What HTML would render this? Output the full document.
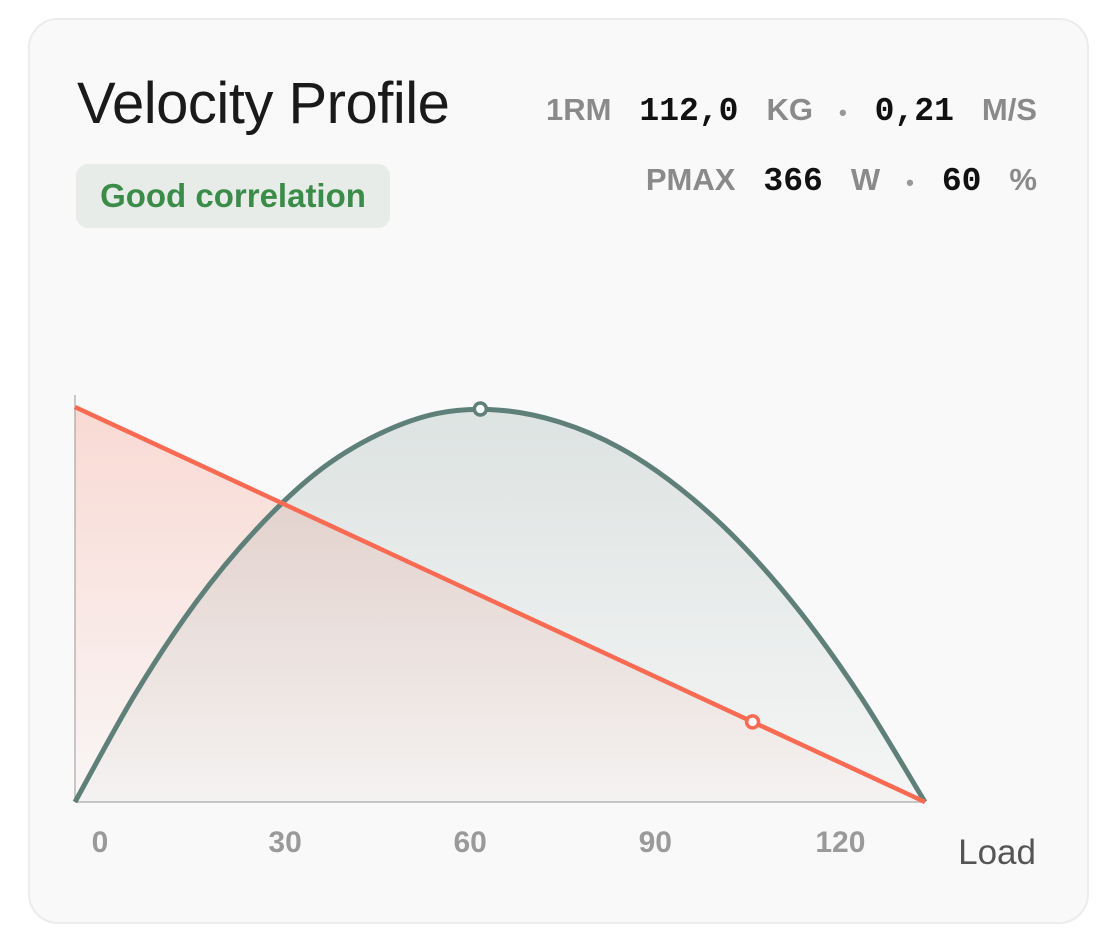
<!DOCTYPE html>
<html><head><meta charset="utf-8"><style>
body{margin:0;width:1119px;height:947px;background:#fff;font-family:"Liberation Sans",sans-serif;overflow:hidden}
.card{position:absolute;left:28px;top:18px;width:1057px;height:902px;border:2px solid #ececec;border-radius:30px;background:#f9f9f9}
.title{position:absolute;left:77px;top:70px;font-size:58px;color:#1a1a1a;letter-spacing:-0.5px}
.pill{position:absolute;left:76px;top:164px;width:314px;height:64px;border-radius:12px;background:#e7ece8;color:#3b8c48;font-weight:bold;font-size:33px;line-height:64px;text-align:center}
.stat{position:absolute;right:82px;font-size:31px;font-weight:bold;white-space:nowrap}
.stat .k{color:#8a8a8a;margin-left:28px}.stat .v{color:#111;margin-left:28px;font-family:"Liberation Mono",monospace;font-size:33px}
.stat .d{color:#999;margin-left:26px;font-size:22px}
svg{position:absolute;left:0;top:0}
</style></head><body>
<div class="card"></div>
<div class="title">Velocity Profile</div>
<div class="pill">Good correlation</div>
<div class="stat" style="top:92px"><span class="k">1RM</span><span class="v">112,0</span><span class="k">KG</span><span class="d">•</span><span class="v">0,21</span><span class="k">M/S</span></div>
<div class="stat" style="top:162px"><span class="k">PMAX</span><span class="v">366</span><span class="k">W</span><span class="d">•</span><span class="v">60</span><span class="k">%</span></div>
<svg id="chart" width="1119" height="947">
<defs>
<linearGradient id="gr" x1="0" y1="0" x2="0" y2="1"><stop offset="0" stop-color="#fa6a50" stop-opacity="0.22"/><stop offset="1" stop-color="#fa6a50" stop-opacity="0.02"/></linearGradient>
<linearGradient id="gg" x1="0" y1="0" x2="0" y2="1"><stop offset="0" stop-color="#5f8079" stop-opacity="0.18"/><stop offset="1" stop-color="#5f8079" stop-opacity="0.03"/></linearGradient>
</defs>
</svg>
<script>
const loads=[0,10,20,30,40,50,60,70,80,90,100,110,120,130,140.5];
const power=[0,101,186,254,307,342,362,365,354,330,292,241,176,97,0];
const velLoads=[0,140.5];
const velocity=[1.035,0];
const oneRM=[112,0.21];
const pmax=[67,366];
const ticks=[0,30,60,90,120];
const X0=75,X1=925,Y0=802;
const xs=v=>X0+v*(X1-X0)/140.5;
const yp=p=>Y0-p*(Y0-409)/366;
const yv=v=>Y0-v*(Y0-407)/1.035;
const svg=document.getElementById('chart');
const NS='http://www.w3.org/2000/svg';
function mk(t,a){const e=document.createElementNS(NS,t);for(const k in a)e.setAttribute(k,a[k]);svg.appendChild(e);return e;}
let ax=mk('line',{x1:X0,y1:395,x2:X0,y2:Y0,stroke:'#c8c8c8','stroke-width':2});


let bx=mk('line',{x1:X0,y1:Y0,x2:X1,y2:Y0,stroke:'#c8c8c8','stroke-width':2});


const pts=loads.map((l,i)=>[xs(l),yp(power[i])]);
let d='M'+pts[0][0]+','+pts[0][1];
for(let i=0;i<pts.length-1;i++){const p0=pts[Math.max(0,i-1)],p1=pts[i],p2=pts[i+1],p3=pts[Math.min(pts.length-1,i+2)];
d+=' C'+(p1[0]+(p2[0]-p0[0])/6)+','+(p1[1]+(p2[1]-p0[1])/6)+' '+(p2[0]-(p3[0]-p1[0])/6)+','+(p2[1]-(p3[1]-p1[1])/6)+' '+p2[0]+','+p2[1];}
let vf=mk('path',{d:'M'+xs(velLoads[0])+','+yv(velocity[0])+' L'+xs(velLoads[1])+','+yv(velocity[1])+' L'+xs(velLoads[0])+','+Y0+'Z',fill:'url(#gr)'});


let pf=mk('path',{d:d+' Z',fill:'url(#gg)'});


let pl=mk('path',{d:d,fill:'none',stroke:'#5f8079','stroke-width':5});


let vl=mk('line',{x1:xs(velLoads[0]),y1:yv(velocity[0]),x2:xs(velLoads[1]),y2:yv(velocity[1]),stroke:'#f86a52','stroke-width':4.5});


let m1=mk('circle',{cx:xs(pmax[0]),cy:yp(pmax[1]),r:6,fill:'#f9f9f9',stroke:'#5f8079','stroke-width':3.5});


let m2=mk('circle',{cx:xs(oneRM[0]),cy:yv(oneRM[1]),r:6,fill:'#f9f9f9',stroke:'#f86a52','stroke-width':3.5});


ticks.forEach(t=>{const e=mk('text',{x:100+t*6.17,y:852,'text-anchor':'middle','font-size':30,'font-weight':'bold',fill:'#9a9a9a','font-family':'Liberation Sans, sans-serif'});
e.textContent=t;

});
let lt=mk('text',{x:1036,y:864,'text-anchor':'end','font-size':35,fill:'#555','font-family':'Liberation Sans, sans-serif'});
lt.textContent='Load';


</script>
</body></html>
